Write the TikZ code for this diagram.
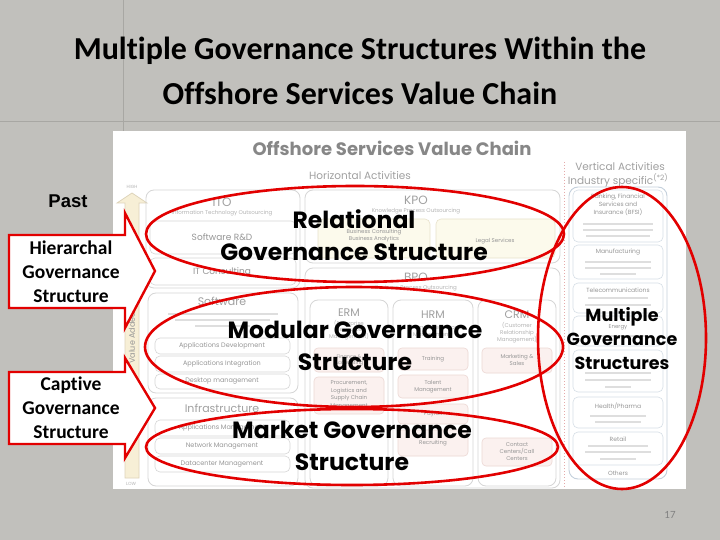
\documentclass[tikz,border=0pt]{standalone}
\usepackage{fontspec}
\setmainfont{Carlito}[Ligatures=NoCommon]
\newfontfamily\geo{Poppins}
\newfontfamily\arialf{Liberation Sans}
\usetikzlibrary{shapes.geometric}
\definecolor{slidebg}{RGB}{193,192,188}
\definecolor{tmplline}{RGB}{168,167,163}
\definecolor{redl}{RGB}{226,0,0}
\definecolor{ttlgray}{RGB}{135,135,135}
\definecolor{hdgray}{RGB}{160,160,160}
\definecolor{itmgray}{RGB}{150,150,150}
\definecolor{smlgray}{RGB}{180,180,180}
\definecolor{blurgray}{RGB}{222,222,222}
\definecolor{boxline}{RGB}{214,214,214}
\definecolor{pinkline}{RGB}{236,216,212}
\definecolor{pinkfill}{RGB}{251,241,239}
\definecolor{creamfill}{RGB}{252,250,236}
\definecolor{creamline}{RGB}{232,226,204}
\definecolor{blueline}{RGB}{196,208,220}
\definecolor{dotred}{RGB}{228,170,170}
\definecolor{arrowfill}{RGB}{247,239,214}
\definecolor{arrowline}{RGB}{222,212,186}
\definecolor{numgray}{RGB}{130,130,130}
\begin{document}
\begin{tikzpicture}[x=1pt,y=-1pt,
  tmpl/.style={draw=tmplline,line width=0.6pt},
  box/.style={draw=boxline,line width=0.8pt,rounded corners=8pt},
  rowbox/.style={draw=boxline,line width=0.6pt,rounded corners=5pt},
  pinkbox/.style={draw=pinkline,fill=pinkfill,line width=0.6pt,rounded corners=4pt},
  creambox/.style={draw=creamline,fill=creamfill,line width=0.6pt,rounded corners=5pt},
  bluebox/.style={draw=blueline,line width=0.9pt,rounded corners=9pt},
  vbox/.style={draw=blueline!70,line width=0.6pt,rounded corners=5pt},
  blur/.style={draw=blurgray,line width=1.6pt},
  hd/.style={text=hdgray,font=\geo\fontsize{11}{12}\selectfont,inner sep=0pt},
  itm/.style={text=itmgray,font=\geo\fontsize{6.5}{8}\selectfont,align=center,inner sep=0pt},
  sml/.style={text=smlgray,font=\geo\fontsize{5}{6}\selectfont,align=center,inner sep=0pt},
  redell/.style={draw=redl,line width=2.6pt},
  overlay/.style={font=\geo\bfseries\fontsize{23.5}{32}\selectfont,align=center,inner sep=0pt},
  callout/.style={draw=redl,fill=white,line width=2.4pt,line join=miter},
  calltext/.style={font=\bfseries\fontsize{19.5}{24}\selectfont,align=center,inner sep=0pt},
  titletext/.style={font=\bfseries\fontsize{32}{36}\selectfont,inner sep=0pt}
]
\useasboundingbox (0,0) rectangle (720,540);
\fill[slidebg] (0,0) rectangle (720,540);
\draw[tmpl] (0,121) -- (720,121);
\draw[tmpl] (123,0) -- (123,131);

% title
\node[titletext,anchor=base] (t1) at (360,60) {Multiple Governance Structures Within the};
\node[titletext,anchor=base] (t2) at (360,105) {Offshore Services Value Chain};

% embedded picture
\fill[white] (113,131) rectangle (686,489);
\node[text=ttlgray,font=\geo\bfseries\fontsize{18}{20}\selectfont,inner sep=0pt] (osvc) at (392,148) {Offshore Services Value Chain};
\node[hd,font=\geo\fontsize{10.5}{12}\selectfont] (horiz) at (360,176) {Horizontal Activities};
\node[hd,font=\geo\fontsize{10.5}{12}\selectfont] (vert1) at (620,167) {Vertical Activities};
\node[hd,font=\geo\fontsize{10.5}{12}\selectfont] (vert2) at (618,180) {Industry specific\textsuperscript{(*2)}};
\draw[dotred,line width=1pt,dotted] (564,162) -- (564,489);

% value added arrow
\draw[draw=arrowline,fill=arrowfill,line width=0.7pt]
  (125,478) -- (125,203) -- (117,203) -- (132,193) -- (147,203) -- (139,203) -- (139,478) -- cycle;
\node[sml,font=\geo\fontsize{4.5}{5}\selectfont] (high) at (132,187) {HIGH};
\node[sml,font=\geo\fontsize{4.5}{5}\selectfont] (low) at (131,484) {LOW};
\node[itm,rotate=90,font=\geo\fontsize{8}{9}\selectfont] (va) at (132,338) {Value Added};

% ITO
\draw[box] (146,190) rectangle (300,288);
\node[hd,font=\geo\fontsize{12}{13}\selectfont] (ito) at (222,202) {ITO};
\node[sml,font=\geo\fontsize{5.5}{6}\selectfont] (itos) at (222,213) {Information Technology Outsourcing};
\draw[rowbox] (150,221) rectangle (296,254);
\node[itm,font=\geo\fontsize{9}{10}\selectfont] (swrd) at (222,237) {Software R\&D};
\draw[rowbox] (150,258) rectangle (296,285);
\node[itm,font=\geo\fontsize{9}{10}\selectfont] (itc) at (222,272) {IT Consulting};

% Software
\draw[box] (148,293) rectangle (298,393);
\node[hd] (sw) at (222,301) {Software};
\draw[blur] (168,314) -- (278,314);
\draw[blur] (175,320) -- (270,320);
\draw[blur] (195,326) -- (250,326);
\draw[rowbox] (155,338) rectangle (290,354);
\node[itm] (apd) at (222,346) {Applications Development};
\draw[rowbox] (155,356) rectangle (290,372);
\node[itm] (api) at (222,364) {Applications Integration};
\draw[rowbox] (155,374) rectangle (290,389);
\node[itm] (dkm) at (222,381) {Desktop management};

% Infrastructure
\draw[box] (148,398) rectangle (298,486);
\node[hd] (infra) at (222,408) {Infrastructure};
\draw[rowbox] (155,420) rectangle (290,436);
\node[itm] (apm) at (222,428) {Applications Management};
\draw[rowbox] (155,438) rectangle (290,454);
\node[itm] (nwm) at (222,446) {Network Management};
\draw[rowbox] (155,456) rectangle (290,472);
\node[itm] (dcm) at (222,464) {Datacenter Management};

% KPO
\draw[box] (305,190) rectangle (560,263);
\node[hd,font=\geo\fontsize{12}{13}\selectfont] (kpo) at (416,200) {KPO};
\node[sml,font=\geo\fontsize{5.5}{6}\selectfont] (kpos) at (416,211) {Knowledge Process Outsourcing};
\draw[creambox] (318,219) rectangle (430,258);
\node[sml,text=itmgray,font=\geo\fontsize{5.5}{7}\selectfont] (bc) at (374,238) {Business Consulting\\Business Analytics\\ };
\draw[creambox] (436,219) rectangle (555,258);
\node[sml,text=itmgray,font=\geo\fontsize{5.5}{7}\selectfont] (legal) at (495,241) {Legal Services};

% BPO
\draw[box] (305,268) rectangle (560,488);
\node[hd,font=\geo\fontsize{12}{13}\selectfont] (bpo) at (416,277) {BPO};
\node[sml,font=\geo\fontsize{5.5}{6}\selectfont] (bpos) at (416,288) {Business Process Outsourcing};

% ERM
\draw[box] (310,300) rectangle (388,486);
\node[hd] (erm) at (349,313) {ERM};
\node[sml,font=\geo\fontsize{5.5}{6.5}\selectfont] (ermt) at (349,330) {(Enterprise\\Resource\\Management)};
\draw[pinkbox] (314,348) rectangle (384,372);
\node[sml,text=itmgray] (fa) at (349,360) {Finance \&\\Accounting};
\draw[pinkbox] (314,377) rectangle (384,414);
\node[sml,text=itmgray,font=\geo\fontsize{5.5}{7.5}\selectfont] (proc) at (349,395) {Procurement,\\Logistics and\\Supply Chain\\Management};

% HRM
\draw[box] (393,300) rectangle (473,486);
\node[hd] (hrm) at (433,315) {HRM};
\node[sml,font=\geo\fontsize{5.5}{6.5}\selectfont] (hrmt) at (433,331) {(Human Resource\\Management)};
\draw[pinkbox] (398,348) rectangle (468,370);
\node[sml,text=itmgray,font=\geo\fontsize{5.5}{7}\selectfont] (trn) at (433,359) {Training};
\draw[pinkbox] (398,375) rectangle (468,398);
\node[sml,text=itmgray,font=\geo\fontsize{5.5}{7}\selectfont] (tal) at (433,387) {Talent\\Management};
\draw[pinkbox] (398,404) rectangle (468,424);
\node[sml,text=itmgray,font=\geo\fontsize{5.5}{7}\selectfont] (pay) at (433,414) {Payroll};
\draw[pinkbox] (398,430) rectangle (468,456);
\node[sml,text=itmgray,font=\geo\fontsize{5.5}{7}\selectfont] (rec) at (433,443) {Recruiting};

% CRM
\draw[box] (478,300) rectangle (556,486);
\node[hd] (crm) at (517,315) {CRM};
\node[sml,font=\geo\fontsize{5.5}{6.5}\selectfont] (crmt) at (517,333) {(Customer\\Relationship\\Management)};
\draw[pinkbox] (482,348) rectangle (552,373);
\node[sml,text=itmgray,font=\geo\fontsize{5.5}{7}\selectfont] (mks) at (517,360) {Marketing \&\\Sales};
\draw[pinkbox] (482,438) rectangle (552,466);
\node[sml,text=itmgray,font=\geo\fontsize{5.5}{7}\selectfont] (ccc) at (517,452) {Contact\\Centers/Call\\Centers};

% vertical column
\draw[bluebox] (569,187) rectangle (667,479);
\draw[vbox] (573,190) rectangle (663,242);
\node[sml,text=itmgray,font=\geo\fontsize{6}{8}\selectfont] (bfsi) at (618,205) {Banking, Financial\\Services and\\Insurance (BFSI)};
\draw[blur] (583,224) -- (653,224); \draw[blur] (583,230) -- (653,230); \draw[blur] (586,236) -- (650,236);
\draw[vbox] (573,245) rectangle (663,279);
\node[sml,text=itmgray,font=\geo\fontsize{6}{8}\selectfont] (manu) at (618,252) {Manufacturing};
\draw[blur] (585,262) -- (651,262); \draw[blur] (585,268) -- (651,268); \draw[blur] (600,274) -- (636,274);
\draw[vbox] (573,283) rectangle (663,313);
\node[sml,text=itmgray,font=\geo\fontsize{6}{8}\selectfont] (tele) at (618,290) {Telecommunications};
\draw[blur] (588,298) -- (648,298); \draw[blur] (585,305) -- (651,305);
\draw[vbox] (573,316) rectangle (663,346);
\node[sml,text=itmgray,font=\geo\fontsize{5.5}{7}\selectfont] (energy) at (618,327) {Energy};
\draw[blur] (588,336) -- (648,336);
\draw[vbox] (573,350) rectangle (663,392);
\draw[blur] (585,373) -- (651,373); \draw[blur] (585,380) -- (651,380); \draw[blur] (605,387) -- (631,387);
\draw[vbox] (573,397) rectangle (663,428);
\node[sml,text=itmgray,font=\geo\fontsize{6}{8}\selectfont] (health) at (618,406) {Health/Pharma};
\draw[blur] (590,416) -- (646,416); \draw[blur] (595,422) -- (641,422);
\draw[vbox] (573,432) rectangle (663,465);
\node[sml,text=itmgray,font=\geo\fontsize{6}{8}\selectfont] (retail) at (618,439) {Retail};
\draw[blur] (588,446) -- (648,446); \draw[blur] (585,452) -- (651,452); \draw[blur] (600,459) -- (636,459);
\node[sml,text=itmgray,font=\geo\fontsize{6}{8}\selectfont] (others) at (618,473) {Others};

% red ellipses
\draw[redell] (355,234) ellipse [x radius=209pt, y radius=48pt];
\draw[redell] (354,347) ellipse [x radius=209pt, y radius=60pt];
\draw[redell] (352,447) ellipse [x radius=206pt, y radius=38pt];
\draw[redell] (622,338) ellipse [x radius=84pt, y radius=151pt];

% overlay labels
\node[overlay] (rel) at (354,235) {Relational\\Governance Structure};
\node[overlay] (mod) at (355,346) {Modular Governance\\Structure};
\node[overlay] (mkt) at (352,446) {Market Governance\\Structure};
\node[overlay,font=\geo\bfseries\fontsize{17.5}{24}\selectfont] (mult) at (622,339) {Multiple\\Governance\\Structures};

% left callouts
\node[font=\arialf\bfseries\fontsize{18.5}{20}\selectfont,inner sep=0pt] (past) at (68,201) {Past};
\draw[callout] (9,235) -- (125,235) -- (125,213) -- (155,271) -- (125,328) -- (125,308) -- (9,308) -- cycle;
\node[calltext] (hier) at (71,272) {Hierarchal\\Governance\\Structure};
\draw[callout] (9,372) -- (125,372) -- (125,358) -- (155,408) -- (125,458) -- (125,444) -- (9,444) -- cycle;
\node[calltext] (capt) at (71,408) {Captive\\Governance\\Structure};

% slide number
\node[text=numgray,font=\fontsize{11}{12}\selectfont,inner sep=0pt] (num) at (670,515) {17};
\end{tikzpicture}
\end{document}
